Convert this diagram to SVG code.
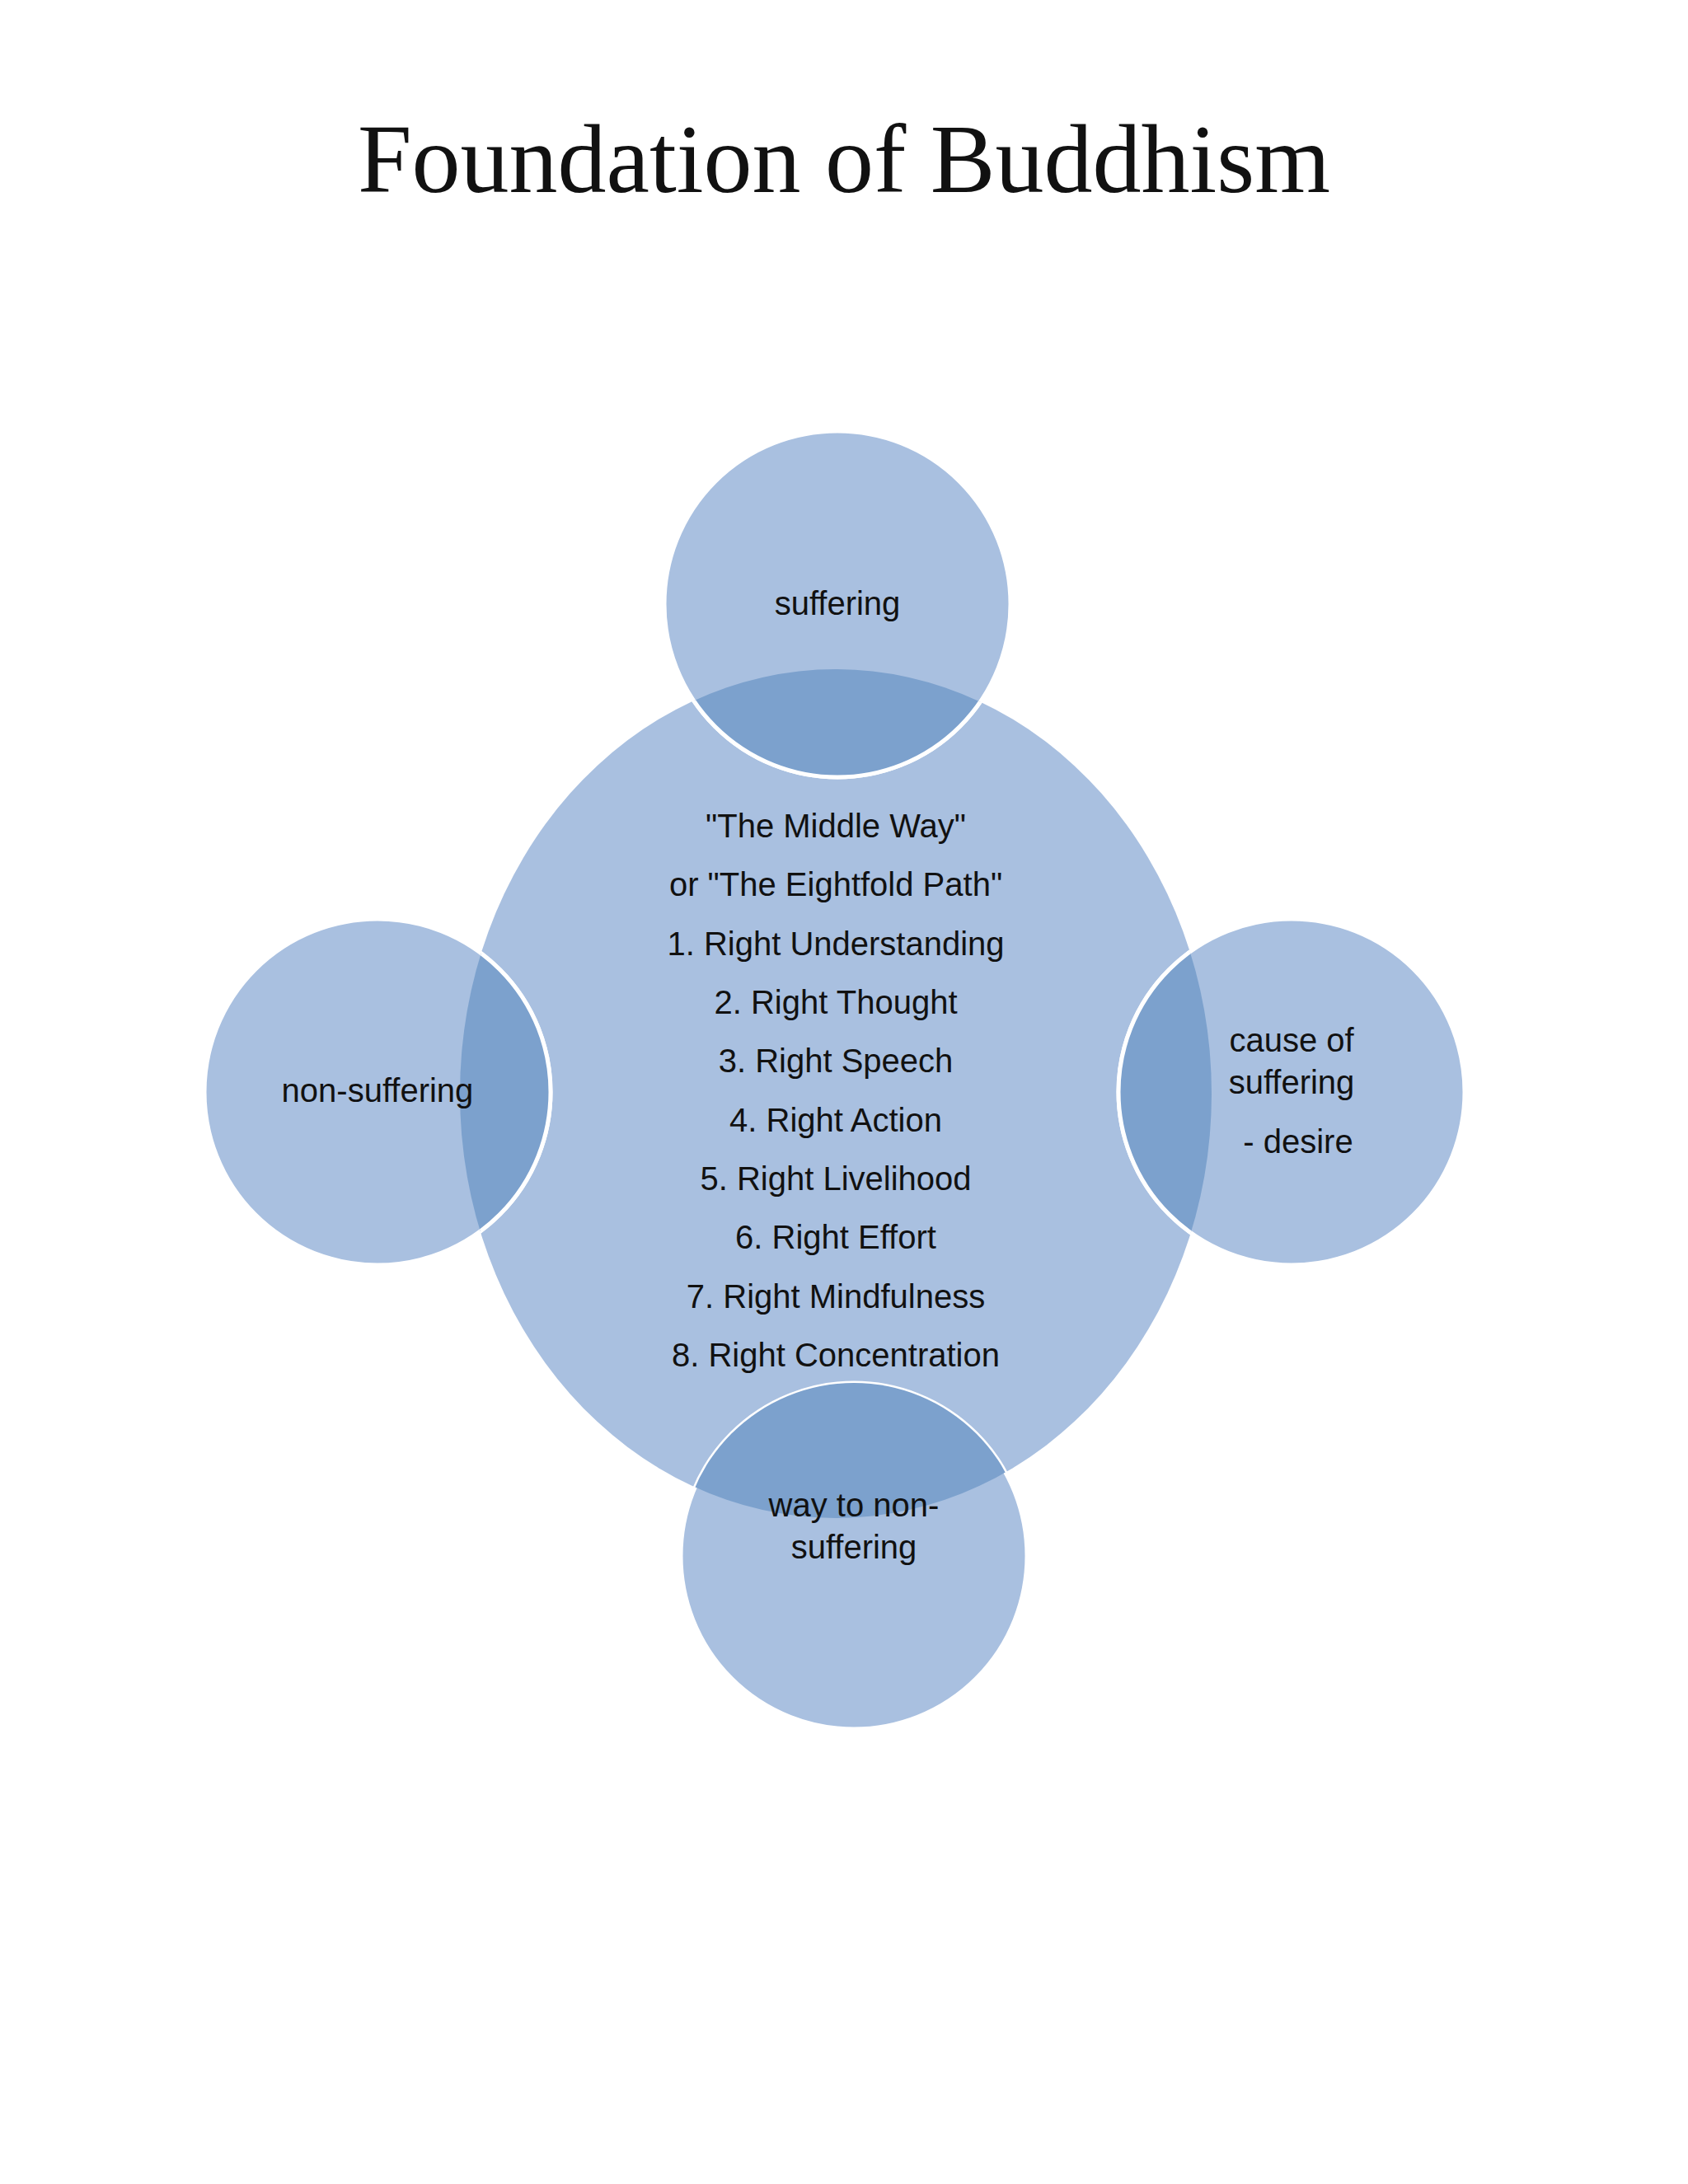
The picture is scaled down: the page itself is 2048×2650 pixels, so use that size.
<svg xmlns="http://www.w3.org/2000/svg" width="2048" height="2650" viewBox="0 0 2048 2650">
<style>
.t{font-family:"Liberation Sans","Open Sans",sans-serif;font-size:40px;fill:#111;text-anchor:middle}
.c{fill:#a9c0e0;stroke:#fff;stroke-width:5}
.o{fill:#7ca1cd}
.w{fill:none;stroke:#fff;stroke-width:5}
</style>
<defs>
<clipPath id="ec"><ellipse cx="1014" cy="1327" rx="456" ry="515"/></clipPath>
</defs>
<rect width="2048" height="2650" fill="#fff"/>
<text x="1024" y="233" font-family="Liberation Serif,serif" font-size="118" text-anchor="middle" fill="#111">Foundation of Buddhism</text>
<g id="center"><ellipse cx="1014" cy="1327" rx="456" ry="515" fill="#a9c0e0"/></g>
<g id="top"><circle class="c" cx="1016" cy="733" r="210"/></g>
<g id="left"><circle class="c" cx="458" cy="1325" r="210"/></g>
<g id="right"><circle class="c" cx="1567" cy="1325" r="210"/></g>
<g id="bottom"><circle class="c" cx="1036" cy="1888" r="210"/></g>
<g id="connectors" clip-path="url(#ec)">
<circle class="o" cx="1016" cy="733" r="210"/>
<circle class="o" cx="458" cy="1325" r="210"/>
<circle class="o" cx="1567" cy="1325" r="210"/>
<circle class="o" cx="1036" cy="1888" r="210"/>
<circle class="w" cx="1016" cy="733" r="210"/>
<circle class="w" cx="458" cy="1325" r="210"/>
<circle class="w" cx="1567" cy="1325" r="210"/>
</g>
<g class="t">
<text x="1016" y="746">suffering</text>
<text x="458" y="1337">non-suffering</text>
<text x="1567" y="1276">cause of</text>
<text x="1567" y="1327">suffering</text>
<text x="1575" y="1399">- desire</text>
<text x="1036" y="1840">way to non-</text>
<text x="1036" y="1891">suffering</text>
<text x="1014" y="1016">"The Middle Way"</text>
<text x="1014" y="1087">or "The Eightfold Path"</text>
<text x="1014" y="1159">1. Right Understanding</text>
<text x="1014" y="1230">2. Right Thought</text>
<text x="1014" y="1301">3. Right Speech</text>
<text x="1014" y="1373">4. Right Action</text>
<text x="1014" y="1444">5. Right Livelihood</text>
<text x="1014" y="1515">6. Right Effort</text>
<text x="1014" y="1587">7. Right Mindfulness</text>
<text x="1014" y="1658">8. Right Concentration</text>
</g>
</svg>
